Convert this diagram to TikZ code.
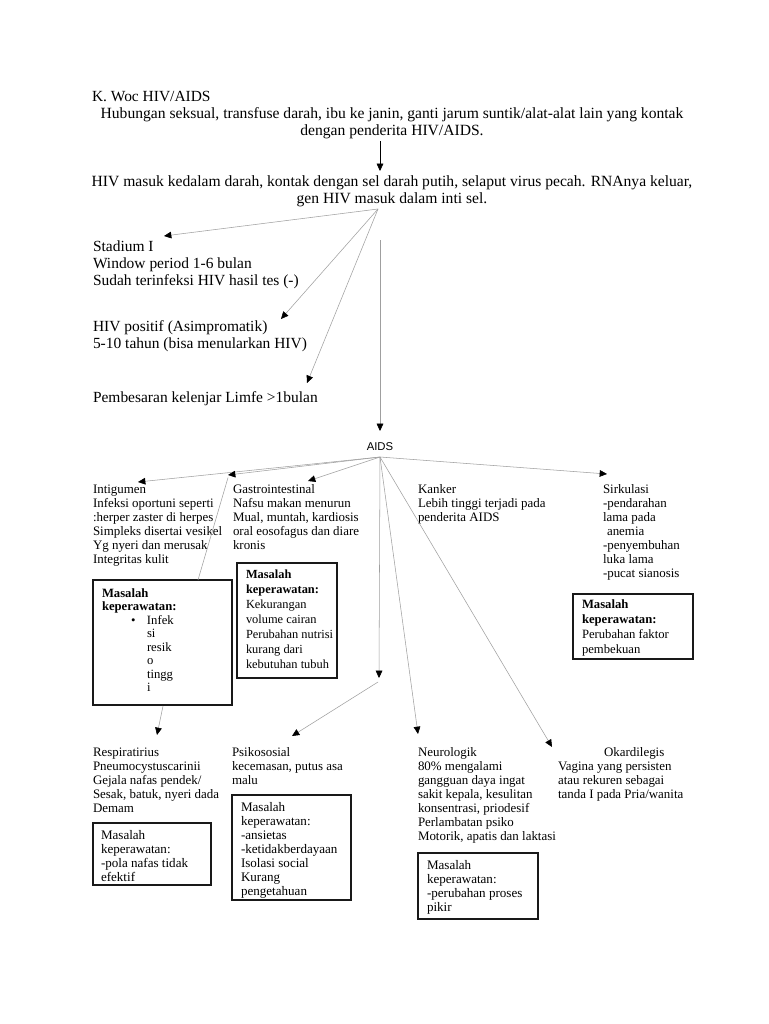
\documentclass[tikz,border=0pt]{standalone}
\usepackage{fontspec}
\setmainfont{Liberation Serif}
\newfontfamily\aidsfont{Liberation Sans}
\usetikzlibrary{arrows.meta}
\begin{document}
\begin{tikzpicture}[x=0.75pt,y=-0.75pt,
  every node/.style={inner sep=0pt, outer sep=0pt},
  maintxt/.style={font=\fontsize{11.6}{12.75}\selectfont, align=left, anchor=north west},
  maintc/.style={font=\fontsize{11.7}{12.75}\selectfont, align=center, anchor=north},
  smalltxt/.style={font=\fontsize{9.7}{10.5}\selectfont, align=left, anchor=north west},
  boxtxt/.style={font=\fontsize{9.3}{11.25}\selectfont, align=left, anchor=north west},
  lowbox/.style={font=\fontsize{9.8}{10.5}\selectfont, align=left, anchor=north west},
  mbox/.style={draw=black!90, line width=0.8pt, anchor=north west},
  conn/.style={draw=gray!75, line width=0.4pt, -{Triangle[length=5.5pt,width=5pt,color=black]}},
  plainconn/.style={draw=gray!75, line width=0.4pt},
]
\path[use as bounding box, fill=white] (0,0) rectangle (768,1024);

% ---------- top texts ----------
\node[maintxt] (title) at (92,91) {K. Woc HIV/AIDS};
\node[maintc] (hub) at (392,108) {Hubungan seksual, transfuse darah, ibu ke janin, ganti jarum suntik/alat-alat lain yang kontak\\dengan penderita HIV/AIDS.};
\node[maintc] (hiv) at (392,176) {HIV masuk kedalam darah, kontak dengan sel darah putih, selaput virus pecah. RNAnya keluar,\\gen HIV masuk dalam inti sel.};
\node[maintxt] (stad) at (93,241) {Stadium I\\Window period 1-6 bulan\\Sudah terinfeksi HIV hasil tes (-)};
\node[maintxt] (pos) at (93,321) {HIV positif (Asimpromatik)\\5-10 tahun (bisa menularkan HIV)};
\node[maintxt] (pemb) at (93,392) {Pembesaran kelenjar Limfe >1bulan};
\node[font=\aidsfont\fontsize{8.5}{9.5}\selectfont] (aids) at (380,447) {AIDS};

% ---------- AIDS branches ----------
\node[smalltxt] (inti) at (93,484.5) {Intigumen\\Infeksi oportuni seperti\\:herper zaster di herpes\\Simpleks disertai vesikel\\Yg nyeri dan merusak\\Integritas kulit};
\node[smalltxt] (gast) at (233,484.5) {Gastrointestinal\\Nafsu makan menurun\\Mual, muntah, kardiosis\\oral eosofagus dan diare\\kronis};
\node[smalltxt] (kank) at (418,484.5) {Kanker\\Lebih tinggi terjadi pada\\penderita AIDS};
\node[smalltxt] (sirk) at (603,484.5) {Sirkulasi\\-pendarahan\\lama pada\\\hspace*{3pt}anemia\\-penyembuhan\\luka lama\\-pucat sianosis};

% boxes row 1
\node[mbox, minimum width=104.25pt, minimum height=93.75pt] (box1) at (93,580) {};
\node[boxtxt, font=\fontsize{9.5}{10.1}\selectfont] (box1t) at (102,588.5) {\textbf{Masalah}\\\textbf{keperawatan:}\\\hspace*{21.75pt}\makebox[12pt][l]{\textbullet}Infek\\\hspace*{33.75pt}si\\\hspace*{33.75pt}resik\\\hspace*{33.75pt}o\\\hspace*{33.75pt}tingg\\\hspace*{33.75pt}i};
\node[mbox, minimum width=75pt, minimum height=86.25pt] (box2) at (237,563) {};
\node[boxtxt] (box2t) at (246,570) {\textbf{Masalah}\\\textbf{keperawatan:}\\Kekurangan\\volume cairan\\Perubahan nutrisi\\kurang dari\\kebutuhan tubuh};
\node[mbox, minimum width=90pt, minimum height=48.75pt] (box3) at (573,594) {};
\node[boxtxt, font=\fontsize{9.5}{11.25}\selectfont] (box3t) at (582,600) {\textbf{Masalah}\\\textbf{keperawatan:}\\Perubahan faktor\\pembekuan};

% ---------- bottom row ----------
\node[smalltxt] (resp) at (93,748) {Respiratirius\\Pneumocystuscarinii\\Gejala nafas pendek/\\Sesak, batuk, nyeri dada\\Demam};
\node[smalltxt] (psik) at (232,748) {Psikososial\\kecemasan, putus asa\\malu};
\node[smalltxt] (neur) at (418,748) {Neurologik\\80\% mengalami\\gangguan daya ingat\\sakit kepala, kesulitan\\konsentrasi, priodesif\\Perlambatan psiko\\Motorik, apatis dan laktasi};
\node[smalltxt] (okar) at (558,748) {\hspace*{34.5pt}Okardilegis\\Vagina yang persisten\\atau rekuren sebagai\\tanda I pada Pria/wanita};

\node[mbox, minimum width=88.5pt, minimum height=46.5pt] (boxR) at (93,823) {};
\node[lowbox] (boxRt) at (101,830) {Masalah\\keperawatan:\\-pola nafas tidak\\efektif};
\node[mbox, minimum width=89.25pt, minimum height=78.75pt] (boxP) at (232,795) {};
\node[lowbox] (boxPt) at (241,802) {Masalah\\keperawatan:\\-ansietas\\-ketidakberdayaan\\Isolasi social\\Kurang\\pengetahuan};
\node[mbox, minimum width=90pt, minimum height=49.5pt] (boxN) at (418,853) {};
\node[lowbox] (boxNt) at (427,860) {Masalah\\keperawatan:\\-perubahan proses\\pikir};

% ---------- connector coordinates ----------
\coordinate (a0s) at (380,141);
\coordinate (a0e) at (380,171);
\coordinate (src) at (378,209);
\coordinate (tStad) at (164,236);
\coordinate (tPos) at (281,319);
\coordinate (tPemb) at (307,383);
\coordinate (vStart) at (380,240);
\coordinate (tAids) at (380,431);
\coordinate (aidsO) at (380,457);
\coordinate (tInt) at (138,482);
\coordinate (tMid) at (228,475);
\coordinate (tGas) at (308,481);
\coordinate (tSir) at (607,474);
\coordinate (tDown) at (379,678);
\coordinate (kink) at (378,682);
\coordinate (tPsi) at (292,736);
\coordinate (tNeu) at (418,734);
\coordinate (tOka) at (552,747);
\coordinate (b1top) at (198,580);
\coordinate (b1bot) at (163,706);
\coordinate (tResp) at (157,735);

% ---------- connectors ----------
\draw[conn, draw=black] (a0s) -- (a0e);
\draw[conn] (src) -- (tStad);
\draw[conn] (src) -- (tPos);
\draw[conn] (src) -- (tPemb);
\draw[conn] (vStart) -- (tAids);
\draw[conn] (aidsO) -- (tInt);
\draw[conn] (aidsO) -- (tMid);
\draw[conn] (aidsO) -- (tGas);
\draw[conn] (aidsO) -- (tSir);
\draw[conn] (aidsO) -- (tDown);
\draw[conn] (kink) -- (tPsi);
\draw[conn] (aidsO) -- (tNeu);
\draw[conn] (aidsO) -- (tOka);
\draw[plainconn] ([yshift=-2pt]tMid) -- (b1top);
\draw[conn] (b1bot) -- (tResp);
\end{tikzpicture}
\end{document}
